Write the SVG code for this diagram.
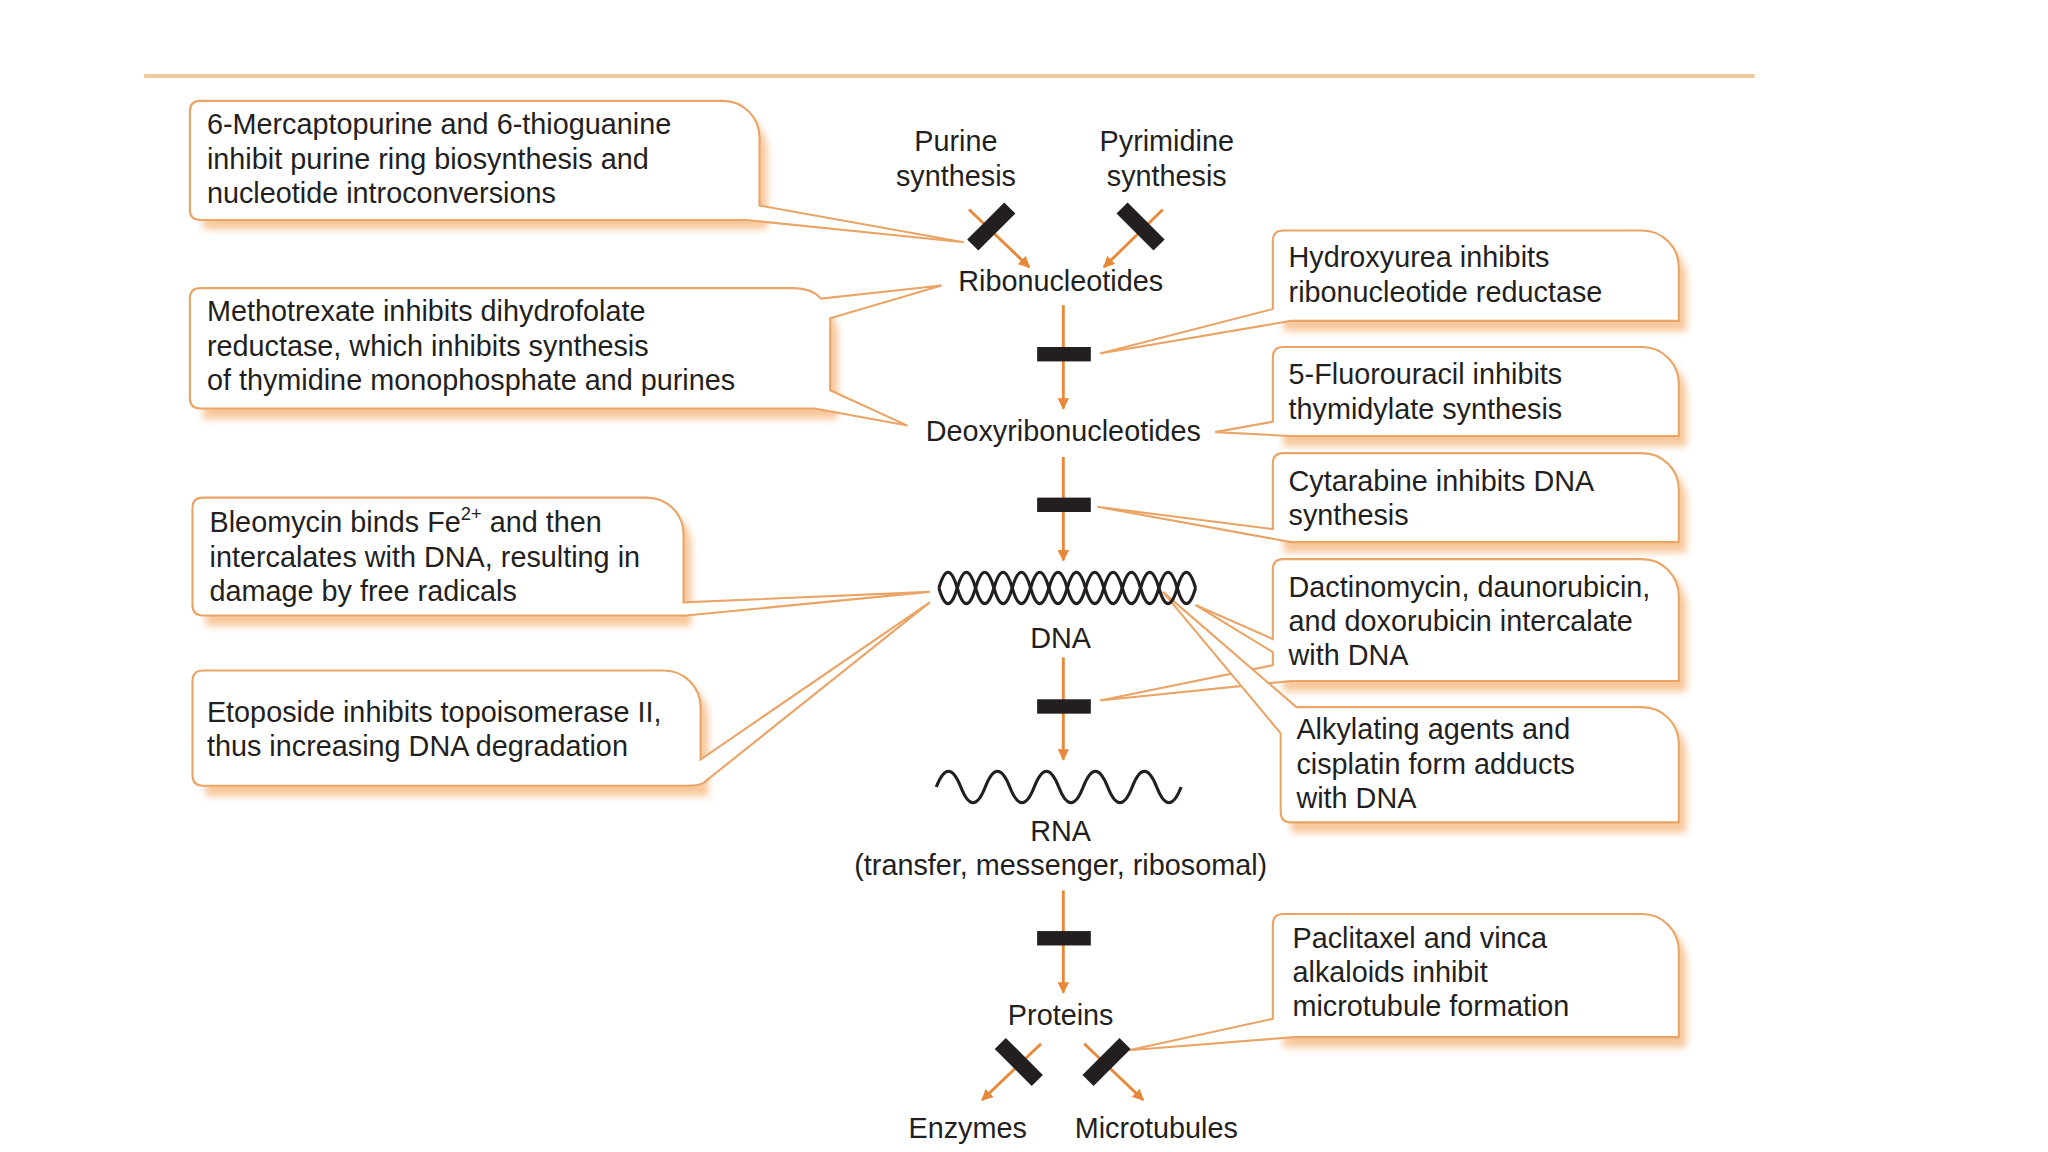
<svg xmlns="http://www.w3.org/2000/svg" width="2048" height="1152" viewBox="0 0 2048 1152">
<defs>
<style>
.t{font-family:"Liberation Sans",Arial,sans-serif;font-size:22px;fill:#231f20}
.m{text-anchor:middle}
.box{fill:#fff;stroke:#e9a466;stroke-width:1.6}
.sh{fill:#f5b57a;opacity:.75;filter:url(#blur)}
.ln{fill:none;stroke:#e8893a;stroke-width:1.6}
.ar{fill:none;stroke:#e8893a;stroke-width:2.2;marker-end:url(#ah)}
.bar{fill:#231f20}
.w{fill:none;stroke:#231f20;stroke-width:2.4}
</style>
<filter id="blur" x="-10%" y="-10%" width="120%" height="130%"><feGaussianBlur stdDeviation="3"/></filter>
<marker id="ah" viewBox="0 0 10 10" refX="9" refY="5" markerWidth="4" markerHeight="4" orient="auto"><path d="M0 0L10 5L0 10z" fill="#e8893a"/></marker>
</defs>
<rect width="2048" height="1152" fill="#fff"/>
<g transform="scale(1.3095)">
<line x1="110" y1="58" x2="1340" y2="58" stroke="#f5c9a0" stroke-width="3"/>

<g id="box1">
<path class="sh" d="M155 85H556A30 30 0 0 1 586 115V175H155z"/>
<path class="box" d="M153 77H552A28 28 0 0 1 580 105V157L736 185L570 168H153Q145 168 145 160V85Q145 77 153 77z"/>
<text class="t" x="158" y="102">6-Mercaptopurine and 6-thioguanine</text>
<text class="t" x="158" y="129">inhibit purine ring biosynthesis and</text>
<text class="t" x="158" y="155">nucleotide introconversions</text>
</g>
<g id="box2">
<path class="sh" d="M155 228H612A28 28 0 0 1 640 256V320H155z"/>
<path class="box" d="M153 220H606Q620 220 627 228L719 218L634 243V298L693 325L622 312H153Q145 312 145 304V228Q145 220 153 220z"/>
<text class="t" x="158" y="245">Methotrexate inhibits dihydrofolate</text>
<text class="t" x="158" y="272">reductase, which inhibits synthesis</text>
<text class="t" x="158" y="298">of thymidine monophosphate and purines</text>
</g>
<g id="box3">
<path class="sh" d="M157 388H500A28 28 0 0 1 528 416V478H157z"/>
<path class="box" d="M155 380H494A28 28 0 0 1 522 408V460L710 452L524 470H155Q147 470 147 462V388Q147 380 155 380z"/>
<text class="t" x="160" y="406">Bleomycin binds Fe<tspan font-size="14" dy="-9">2+</tspan><tspan dy="9"> and then</tspan></text>
<text class="t" x="160" y="433">intercalates with DNA, resulting in</text>
<text class="t" x="160" y="459">damage by free radicals</text>
</g>
<g id="box4">
<path class="sh" d="M157 520H513A28 28 0 0 1 541 548V608H157z"/>
<path class="box" d="M155 512H507A28 28 0 0 1 535 540V580L710 460L537 598Q533 600 525 600H155Q147 600 147 592V520Q147 512 155 512z"/>
<text class="t" x="158" y="551">Etoposide inhibits topoisomerase II,</text>
<text class="t" x="158" y="577">thus increasing DNA degradation</text>
</g>
<g id="box5">
<path class="sh" d="M980 184H1260A28 28 0 0 1 1288 212V253H980z"/>
<path class="box" d="M980 176H1254A28 28 0 0 1 1282 204V245H986L840 270L972 236V184Q972 176 980 176z"/>
<text class="t" x="984" y="204">Hydroxyurea inhibits</text>
<text class="t" x="984" y="231">ribonucleotide reductase</text>
</g>
<g id="box6">
<path class="sh" d="M980 273H1260A28 28 0 0 1 1288 301V341H980z"/>
<path class="box" d="M980 265H1254A28 28 0 0 1 1282 293V333H986L928 330L972 322V273Q972 265 980 265z"/>
<text class="t" x="984" y="293">5-Fluorouracil inhibits</text>
<text class="t" x="984" y="320">thymidylate synthesis</text>
</g>
<g id="box7">
<path class="sh" d="M980 354H1260A28 28 0 0 1 1288 382V422H980z"/>
<path class="box" d="M980 346H1254A28 28 0 0 1 1282 374V414H986L838 387L972 404V354Q972 346 980 346z"/>
<text class="t" x="984" y="375">Cytarabine inhibits DNA</text>
<text class="t" x="984" y="401">synthesis</text>
</g>
<g id="box8">
<path class="sh" d="M980 435H1260A28 28 0 0 1 1288 463V528H980z"/>
<path class="box" d="M980 427H1254A28 28 0 0 1 1282 455V520H986L840 535L972 508V498L913 462L972 488V435Q972 427 980 427z"/>
<text class="t" x="984" y="456">Dactinomycin, daunorubicin,</text>
<text class="t" x="984" y="482">and doxorubicin intercalate</text>
<text class="t" x="984" y="508">with DNA</text>
</g>
<g id="box9">
<path class="sh" d="M986 548H1260A28 28 0 0 1 1288 576V636H986z"/>
<path class="box" d="M990 540H1254A28 28 0 0 1 1282 568V628H986Q978 628 978 620V560L888 452L990 540z"/>
<text class="t" x="990" y="564">Alkylating agents and</text>
<text class="t" x="990" y="591">cisplatin form adducts</text>
<text class="t" x="990" y="617">with DNA</text>
</g>
<g id="box10">
<path class="sh" d="M980 706H1260A28 28 0 0 1 1288 734V800H980z"/>
<path class="box" d="M980 698H1254A28 28 0 0 1 1282 726V792H988L862 802L972 778V706Q972 698 980 698z"/>
<text class="t" x="987" y="724">Paclitaxel and vinca</text>
<text class="t" x="987" y="750">alkaloids inhibit</text>
<text class="t" x="987" y="776">microtubule formation</text>
</g>

<g id="purine"><text class="t m" x="730" y="115">Purine</text><text class="t m" x="730" y="142">synthesis</text></g>
<g id="pyrimidine"><text class="t m" x="891" y="115">Pyrimidine</text><text class="t m" x="891" y="142">synthesis</text></g>
<g id="ribo"><text class="t m" x="810" y="222">Ribonucleotides</text></g>
<g id="deoxy"><text class="t m" x="812" y="337">Deoxyribonucleotides</text></g>
<g id="dna">
<path class="w" d="M717 449q7 -24 14 0t14 0t14 0t14 0t14 0t14 0t14 0t14 0t14 0t14 0t14 0t14 0t14 0t14 0"/>
<path class="w" d="M717 449q7 24 14 0t14 0t14 0t14 0t14 0t14 0t14 0t14 0t14 0t14 0t14 0t14 0t14 0t14 0"/>
<text class="t m" x="810" y="495">DNA</text>
</g>
<g id="rna">
<path class="w" d="M715 601q9.3 -24 18.7 0t18.7 0t18.7 0t18.7 0t18.7 0t18.7 0t18.7 0t18.7 0t18.7 0t18.7 0"/>
<text class="t m" x="810" y="642">RNA</text>
<text class="t m" x="810" y="668">(transfer, messenger, ribosomal)</text>
</g>
<g id="proteins"><text class="t m" x="810" y="783">Proteins</text></g>
<g id="enzymes"><text class="t m" x="739" y="869">Enzymes</text></g>
<g id="microtubules"><text class="t m" x="883" y="869">Microtubules</text></g>

<g id="connectors">
<line class="ar" x1="740" y1="160" x2="786" y2="204"/>
<line class="ar" x1="888" y1="160" x2="843" y2="204"/>
<line class="ar" x1="812" y1="233" x2="812" y2="312"/>
<line class="ar" x1="812" y1="349" x2="812" y2="428"/>
<line class="ar" x1="812" y1="502" x2="812" y2="580"/>
<line class="ar" x1="812" y1="680" x2="812" y2="758"/>
<line class="ar" x1="795" y1="797" x2="750" y2="840"/>
<line class="ar" x1="828" y1="797" x2="873" y2="840"/>
<rect class="bar" x="737" y="167" width="40" height="12" transform="rotate(-45 757 173)"/>
<rect class="bar" x="851" y="167" width="40" height="12" transform="rotate(45 871 173)"/>
<rect class="bar" x="792" y="265" width="41" height="11"/>
<rect class="bar" x="792" y="380" width="41" height="11"/>
<rect class="bar" x="792" y="534" width="41" height="11"/>
<rect class="bar" x="792" y="711" width="41" height="11"/>
<rect class="bar" x="758" y="805" width="40" height="12" transform="rotate(45 778 811)"/>
<rect class="bar" x="825" y="805" width="40" height="12" transform="rotate(-45 845 811)"/>
</g>
</g>
</svg>
